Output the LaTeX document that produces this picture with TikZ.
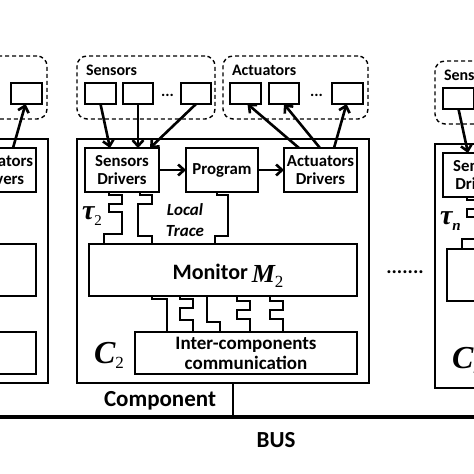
\documentclass[tikz,border=0pt]{standalone}
\usepackage{fontspec}
\setmainfont{Carlito}
\newfontfamily\tms{Liberation Serif}
\usetikzlibrary{arrows.meta}
\newcommand{\taulab}[1]{{\tms\fontsize{28}{28}\selectfont\bfseries\itshape τ}\raisebox{-6pt}{\tms\fontsize{15}{15}\selectfont #1}}
\newcommand{\clab}[1]{{\tms\fontsize{32}{32}\selectfont\bfseries\itshape C}\raisebox{-5pt}{\tms\fontsize{17}{17}\selectfont #1}}
\tikzset{
  every node/.style={inner sep=0pt,outer sep=0pt},
  compbox/.style={draw,line width=2.5pt,anchor=north west},
  box/.style={draw,line width=1.8pt,anchor=north west,align=center,font=\fontsize{16.8}{18.5}\selectfont\bfseries},
  smallbox/.style={draw,line width=1.6pt,anchor=north west,minimum width=30,minimum height=21},
  group/.style={draw,dash pattern=on 4pt off 3pt,line width=1.4pt,rounded corners=10pt,anchor=north west},
  grouplab/.style={anchor=west,font=\fontsize{16}{18}\selectfont\bfseries},
  arr/.style={line width=2.6pt,-{Straight Barb[length=6pt,width=11pt]}},
  wire/.style={line width=2.2pt},
  bigtext/.style={anchor=base,font=\fontsize{23}{23}\selectfont\bfseries},
  pics/comp/.style={code={
    % sensors group
    \node[group,minimum width=138,minimum height=63] (-sg) at (77,56) {};
    \node[grouplab] (-sl) at (86,70) {Sensors};
    \node[smallbox,minimum width=31] (-s1) at (85,83) {};
    \node[smallbox] (-s2) at (123,83) {};
    \node[grouplab] (-sdots) at (161,95) {...};
    \node[smallbox] (-s3) at (181,83) {};
    % actuators group
    \node[group,minimum width=145,minimum height=63] (-ag) at (223,56) {};
    \node[grouplab] (-al) at (232,70) {Actuators};
    \node[smallbox,minimum width=31] (-a1) at (230,83) {};
    \node[smallbox] (-a2) at (269,83) {};
    \node[grouplab] (-adots) at (310,95) {...};
    \node[smallbox,minimum width=31] (-a3) at (332,83) {};
    % component
    \node[compbox,minimum width=292,minimum height=244] (-comp) at (77,139) {};
    \node[box,minimum width=74,minimum height=44] (-sd) at (85,148) {Sensors\\Drivers};
    \node[box,minimum width=72,minimum height=44] (-prog) at (186,148) {Program};
    \node[box,minimum width=73,minimum height=44] (-ad) at (284,148) {Actuators\\Drivers};
    \node[box,minimum width=268,minimum height=52] (-mon) at (89,244) {};
    \node[anchor=base] (-mtext) at (228,279) {{\fontsize{22}{22}\selectfont\bfseries Monitor}\hspace{4pt}\raisebox{-3pt}{\tms\fontsize{26}{26}\selectfont\bfseries\itshape M}\raisebox{-8pt}{\tms\fontsize{17}{17}\selectfont #1}};
    \node[box,minimum width=222,minimum height=42,font=\fontsize{19}{20}\selectfont\bfseries] (-icc) at (135,332) {Inter-components\\communication};
    % labels
    \node[anchor=base west] (-tau) at (82,219) {\taulab{#1}};
    \node[anchor=base west] (-clab) at (94,363) {\clab{#1}};
    \node[align=center,font=\fontsize{17}{21}\selectfont\bfseries\itshape] (-lt) at (185,220) {Local\\Trace};
    % arrows
    \draw[arr] (-s1.south) -- ([xshift=25pt]-sd.north west);
    \draw[arr] (-s2.south) -- ([xshift=53pt]-sd.north west);
    \draw[arr] (-s3.south) -- ([xshift=65pt]-sd.north west);
    \draw[arr] ([xshift=15pt]-ad.north west) -- ([xshift=2pt]-a1.south);
    \draw[arr] ([xshift=36pt]-ad.north west) -- (-a2.south);
    \draw[arr] ([xshift=50pt]-ad.north west) -- ([xshift=-1pt]-a3.south);
    \draw[arr] (-sd.east) -- (-prog.west);
    \draw[arr] (-prog.east) -- (-ad.west);
    % local trace wires
    \draw[wire] ([xshift=24pt]-sd.south west) -- ++(0,3) -- ++(13,0) -- ++(0,9) -- ++(-13,0) -- ++(0,8) -- ++(13,0) -- ++(0,22) -- ++(-18,0) -- ++(0,10);
    \draw[wire] ([xshift=55pt]-sd.south west) -- ++(0,3) -- ++(12,0) -- ++(0,9) -- ++(-14,0) -- ++(0,32) -- ++(14,0) -- ++(0,8);
    \draw[wire] ([xshift=31pt]-prog.south west) -- ++(0,3) -- ++(11,0) -- ++(0,41) -- ++(-13,0) -- ++(0,8);
    % monitor to communication wires
    \draw[wire] ([xshift=63pt]-mon.south west) -- ++(0,3) -- ++(15,0) -- ++(0,33);
    \draw[wire] ([xshift=91pt]-mon.south west) -- ++(0,3) -- ++(13,0) -- ++(0,9) -- ++(-13,0) -- ++(0,12) -- ++(13,0) -- ++(0,12);
    \draw[wire] ([xshift=118pt]-mon.south west) -- ++(0,26) -- ++(13,0) -- ++(0,10);
    \draw[wire] ([xshift=148pt]-mon.south west) -- ++(0,5) -- ++(13,0) -- ++(0,9) -- ++(-13,0) -- ++(0,9) -- ++(13,0) -- ++(0,13);
    \draw[wire] ([xshift=181pt]-mon.south west) -- ++(0,5) -- ++(13,0) -- ++(0,9) -- ++(-13,0) -- ++(0,9) -- ++(13,0) -- ++(0,13);
  }}
}
\begin{document}
\begin{tikzpicture}[x=1pt,y=-1pt]
  \useasboundingbox (0,0) rectangle (474,474);
  \clip (0,0) rectangle (474,474);
  % ---- left component (partly visible)
  \node[group,minimum width=145,minimum height=63] (L-ag) at (-98,56) {};
  \node[smallbox,minimum width=31] (L-a3) at (11,83) {};
  \node[compbox,minimum width=292,minimum height=244] (L-comp) at (-244,139) {};
  \node[box,minimum width=73,minimum height=44] (L-ad) at (-37,148) {Actuators\\Drivers};
  \node[box,minimum width=268,minimum height=52] (L-mon) at (-232,244) {};
  \node[box,minimum width=222,minimum height=42] (L-icc) at (-186,332) {};
  \draw[arr] ([xshift=50pt]L-ad.north west) -- ([xshift=-1pt]L-a3.south);
  % ---- middle component
  \pic (C2) at (0,0) {comp={2}};
  % ---- right component (partly visible)
  \node[group,minimum width=138,minimum height=63] (R-sg) at (435,61) {};
  \node[grouplab] (R-sl) at (444,75) {Sensors};
  \node[smallbox,minimum width=31] (R-s1) at (443,88) {};
  \node[compbox,minimum width=292,minimum height=244] (R-comp) at (435,144) {};
  \node[box,minimum width=74,minimum height=44] (R-sd) at (443,153) {Sensors\\Drivers};
  \node[box,minimum width=268,minimum height=52] (R-mon) at (447,249) {};
  \node[anchor=base west] (R-tau) at (440,224) {\taulab{\bfseries\itshape n}};
  \node[anchor=base west] (R-clab) at (452,368) {\clab{\bfseries\itshape n}};
  \draw[arr] (R-s1.south) -- ([xshift=25pt]R-sd.north west);
  \draw[wire] ([xshift=24pt]R-sd.south west) -- ++(0,3) -- ++(13,0) -- ++(0,9) -- ++(-13,0) -- ++(0,8) -- ++(13,0) -- ++(0,22) -- ++(-18,0) -- ++(0,10);
  % ---- bus
  \coordinate (busL) at (0,417);
  \coordinate (busR) at (474,417);
  \draw[line width=3.2pt] (busL) -- (busR);
  \coordinate (C2-link) at ([xshift=156pt]C2-comp.south west);
  \draw[line width=2.2pt] (C2-link) -- (C2-link |- busL);
  \node[bigtext] (complab) at (160,406) {Component};
  \node[bigtext] (buslab) at (276,447) {BUS};
  \node[anchor=base,font=\fontsize{20}{20}\selectfont\bfseries] (dots) at (405,273) {.......};
\end{tikzpicture}
\end{document}
